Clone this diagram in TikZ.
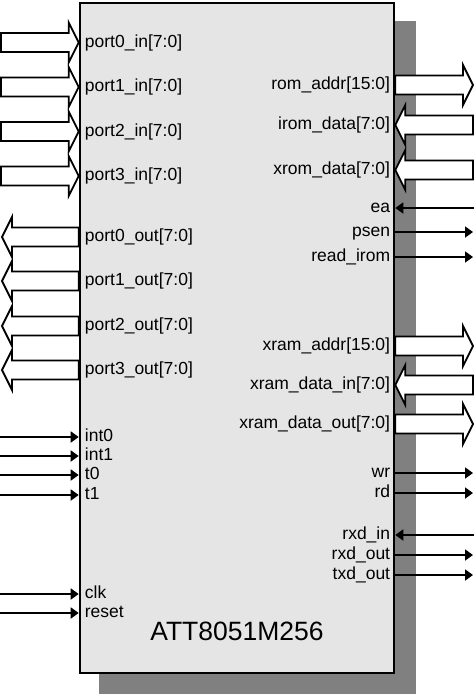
\documentclass[tikz,border=0pt]{standalone}
\usepackage{fontspec}
\setmainfont{Liberation Sans}
\usetikzlibrary{calc}
\usetikzlibrary{positioning}
\usetikzlibrary{backgrounds}
\usetikzlibrary{arrows.meta}
\tikzset{every picture/.style={>={Triangle[length=8pt,width=11pt]}}}
\tikzset{chip/.style={draw, fill=black!10, line width=2.6pt, inner sep=0pt}}
\tikzset{sig/.style={line width=1.8pt}}
\tikzset{pinlabel/.style={inner sep=0pt, text height=12.5pt, text depth=3.5pt,
	font=\fontsize{17.5}{20}\selectfont}}
\tikzset{bus/.style={draw, fill=white, line width=1.8pt, line join=miter,
	to path={($(\tikztotarget)!10pt!(\tikztostart)$) coordinate (bh)
		($(\tikztostart)!9.5pt!90:(\tikztotarget)$)
		-- ($(bh)!9.5pt!90:(\tikztotarget)$)
		-- ($(bh)!20pt!90:(\tikztotarget)$)
		-- (\tikztotarget)
		-- ($(bh)!20pt!-90:(\tikztotarget)$)
		-- ($(bh)!9.5pt!-90:(\tikztotarget)$)
		-- ($(\tikztostart)!9.5pt!-90:(\tikztotarget)$) -- cycle}}}

\begin{document}
\begin{tikzpicture}[x=1pt, y=-1pt]
	\useasboundingbox (0,0) rectangle (474,694);
	\node[chip, minimum width=314pt, minimum height=670pt] (chip) at (237,338) {};
	\begin{scope}[on background layer]
		\fill[black!50] ($(chip.north west)+(20,19)$) rectangle ($(chip.south east)+(21,21)$);
	\end{scope}
	\node[inner sep=0pt, font=\fontsize{26.5}{30}\selectfont, above=33pt of chip.south]
	(name) {ATT8051M256};

	% left side, bus inputs
	\coordinate (p0i-pin) at (chip.west |- 0,42.5);
	\coordinate (p1i-pin) at (chip.west |- 0,87);
	\coordinate (p2i-pin) at (chip.west |- 0,131.5);
	\coordinate (p3i-pin) at (chip.west |- 0,176);
	\coordinate (p0i-end) at (1,42.5);
	\coordinate (p1i-end) at (1,87);
	\coordinate (p2i-end) at (1,131.5);
	\coordinate (p3i-end) at (1,176);
	\node[pinlabel, right=6pt of p0i-pin] (p0i) {port0\_in[7:0]};
	\node[pinlabel, right=6pt of p1i-pin] (p1i) {port1\_in[7:0]};
	\node[pinlabel, right=6pt of p2i-pin] (p2i) {port2\_in[7:0]};
	\node[pinlabel, right=6pt of p3i-pin] (p3i) {port3\_in[7:0]};
	\draw[bus] (p0i-end) to (p0i-pin);
	\draw[bus] (p1i-end) to (p1i-pin);
	\draw[bus] (p2i-end) to (p2i-pin);
	\draw[bus] (p3i-end) to (p3i-pin);

	% left side, bus outputs
	\coordinate (p0o-pin) at (chip.west |- 0,237);
	\coordinate (p1o-pin) at (chip.west |- 0,281);
	\coordinate (p2o-pin) at (chip.west |- 0,326);
	\coordinate (p3o-pin) at (chip.west |- 0,370);
	\coordinate (p0o-end) at (2,237);
	\coordinate (p1o-end) at (2,281);
	\coordinate (p2o-end) at (2,326);
	\coordinate (p3o-end) at (2,370);
	\node[pinlabel, right=6pt of p0o-pin] (p0o) {port0\_out[7:0]};
	\node[pinlabel, right=6pt of p1o-pin] (p1o) {port1\_out[7:0]};
	\node[pinlabel, right=6pt of p2o-pin] (p2o) {port2\_out[7:0]};
	\node[pinlabel, right=6pt of p3o-pin] (p3o) {port3\_out[7:0]};
	\draw[bus] (p0o-pin) to (p0o-end);
	\draw[bus] (p1o-pin) to (p1o-end);
	\draw[bus] (p2o-pin) to (p2o-end);
	\draw[bus] (p3o-pin) to (p3o-end);

	% left side, single inputs
	\coordinate (int0-pin) at (chip.west |- 0,437);
	\coordinate (int1-pin) at (chip.west |- 0,456);
	\coordinate (t0-pin) at (chip.west |- 0,475);
	\coordinate (t1-pin) at (chip.west |- 0,495);
	\coordinate (clk-pin) at (chip.west |- 0,594);
	\coordinate (reset-pin) at (chip.west |- 0,613);
	\coordinate (int0-end) at (0,437);
	\coordinate (int1-end) at (0,456);
	\coordinate (t0-end) at (0,475);
	\coordinate (t1-end) at (0,495);
	\coordinate (clk-end) at (0,594);
	\coordinate (reset-end) at (0,613);
	\node[pinlabel, right=6pt of int0-pin] (int0) {int0};
	\node[pinlabel, right=6pt of int1-pin] (int1) {int1};
	\node[pinlabel, right=6pt of t0-pin] (t0) {t0};
	\node[pinlabel, right=6pt of t1-pin] (t1) {t1};
	\node[pinlabel, right=6pt of clk-pin] (clk) {clk};
	\node[pinlabel, right=6pt of reset-pin] (reset) {reset};
	\draw[sig, ->] (int0-end) -- (int0-pin);
	\draw[sig, ->] (int1-end) -- (int1-pin);
	\draw[sig, ->] (t0-end) -- (t0-pin);
	\draw[sig, ->] (t1-end) -- (t1-pin);
	\draw[sig, ->] (clk-end) -- (clk-pin);
	\draw[sig, ->] (reset-end) -- (reset-pin);

	% right side, buses
	\coordinate (romaddr-pin) at (chip.east |- 0,85);
	\coordinate (iromd-pin) at (chip.east |- 0,125);
	\coordinate (xromd-pin) at (chip.east |- 0,170);
	\coordinate (xaddr-pin) at (chip.east |- 0,346);
	\coordinate (xdin-pin) at (chip.east |- 0,385);
	\coordinate (xdout-pin) at (chip.east |- 0,424);
	\coordinate (romaddr-end) at (473,85);
	\coordinate (iromd-end) at (473,125);
	\coordinate (xromd-end) at (473,170);
	\coordinate (xaddr-end) at (473,346);
	\coordinate (xdin-end) at (473,385);
	\coordinate (xdout-end) at (473,424);
	\node[pinlabel, left=5pt of romaddr-pin] (romaddr) {rom\_addr[15:0]};
	\node[pinlabel, left=5pt of iromd-pin] (iromd) {irom\_data[7:0]};
	\node[pinlabel, left=5pt of xromd-pin] (xromd) {xrom\_data[7:0]};
	\node[pinlabel, left=5pt of xaddr-pin] (xaddr) {xram\_addr[15:0]};
	\node[pinlabel, left=5pt of xdin-pin] (xdin) {xram\_data\_in[7:0]};
	\node[pinlabel, left=5pt of xdout-pin] (xdout) {xram\_data\_out[7:0]};
	\draw[bus] (romaddr-pin) to (romaddr-end);
	\draw[bus] (iromd-end) to (iromd-pin);
	\draw[bus] (xromd-end) to (xromd-pin);
	\draw[bus] (xaddr-pin) to (xaddr-end);
	\draw[bus] (xdin-end) to (xdin-pin);
	\draw[bus] (xdout-pin) to (xdout-end);

	% right side, single lines
	\coordinate (ea-pin) at (chip.east |- 0,208);
	\coordinate (psen-pin) at (chip.east |- 0,232);
	\coordinate (rdirom-pin) at (chip.east |- 0,257);
	\coordinate (wr-pin) at (chip.east |- 0,473);
	\coordinate (rd-pin) at (chip.east |- 0,493);
	\coordinate (rxdin-pin) at (chip.east |- 0,535);
	\coordinate (rxdout-pin) at (chip.east |- 0,555);
	\coordinate (txdout-pin) at (chip.east |- 0,575);
	\coordinate (ea-end) at (474,208);
	\coordinate (psen-end) at (473,232);
	\coordinate (rdirom-end) at (473,257);
	\coordinate (wr-end) at (473,473);
	\coordinate (rd-end) at (473,493);
	\coordinate (rxdin-end) at (474,535);
	\coordinate (rxdout-end) at (473,555);
	\coordinate (txdout-end) at (473,575);
	\node[pinlabel, left=5pt of ea-pin] (ea) {ea};
	\node[pinlabel, left=5pt of psen-pin] (psen) {psen};
	\node[pinlabel, left=5pt of rdirom-pin] (rdirom) {read\_irom};
	\node[pinlabel, left=5pt of wr-pin] (wr) {wr};
	\node[pinlabel, left=5pt of rd-pin] (rd) {rd};
	\node[pinlabel, left=5pt of rxdin-pin] (rxdin) {rxd\_in};
	\node[pinlabel, left=5pt of rxdout-pin] (rxdout) {rxd\_out};
	\node[pinlabel, left=5pt of txdout-pin] (txdout) {txd\_out};
	\draw[sig, ->] (ea-end) -- (ea-pin);
	\draw[sig, ->] (psen-pin) -- (psen-end);
	\draw[sig, ->] (rdirom-pin) -- (rdirom-end);
	\draw[sig, ->] (wr-pin) -- (wr-end);
	\draw[sig, ->] (rd-pin) -- (rd-end);
	\draw[sig, ->] (rxdin-end) -- (rxdin-pin);
	\draw[sig, ->] (rxdout-pin) -- (rxdout-end);
	\draw[sig, ->] (txdout-pin) -- (txdout-end);
\end{tikzpicture}
\end{document}
